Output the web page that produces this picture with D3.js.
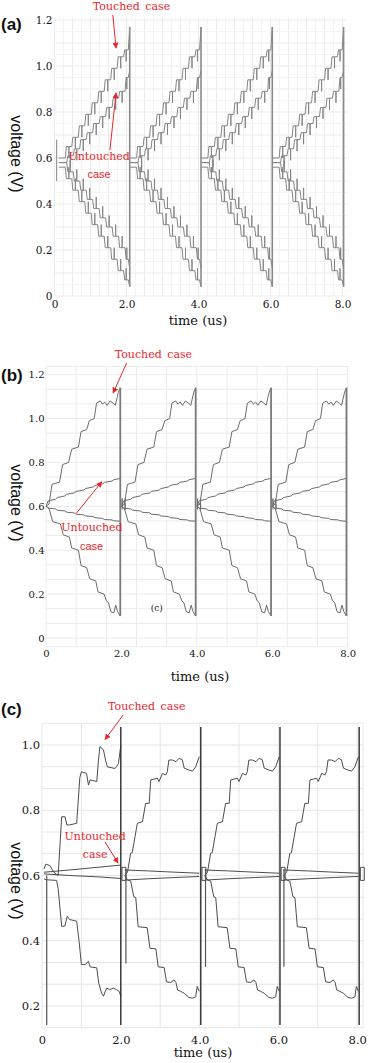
<!DOCTYPE html>
<html>
<head>
<meta charset="utf-8">
<script src="https://cdn.jsdelivr.net/npm/d3@7"></script>
<style>
  html, body { margin: 0; padding: 0; background: #fff; }
  svg { display: block; }
</style>
</head>
<body>
<div id="chart"></div>
<script>
// ---------- values ----------
// time axis (us), shared by the three panels
const timeTicks = [0, 2, 4, 6, 8];
const timeTickLabels = ["0", "2.0", "4.0", "6.0", "8.0"];

// ---- panel (a) ----
const voltTicksA = [0, 0.2, 0.4, 0.6, 0.8, 1.0, 1.2];
const voltTickLabelsA = ["0", "0.2", "0.4", "0.6", "0.8", "1.0", "1.2"];
const cycleStartsA = [0.12, 2.1, 4.08, 6.06];
const dropsA = [2.09, 4.07, 6.05, 8.03];
const dropRangeA = [0.04, 1.17];
const stepTimesTouchedA = [0, 0.18, 0.36, 0.54, 0.72, 0.9, 1.08, 1.26, 1.44, 1.62, 1.8];
const stepTimesUntouchedA = [0, 0.22, 0.4, 0.58, 0.76, 0.94, 1.12, 1.3, 1.48, 1.66, 1.84];
const touchedUpA = [0.60, 0.65, 0.69, 0.74, 0.79, 0.84, 0.89, 0.94, 0.99, 1.04, 1.07];
const untouchedUpA = [0.58, 0.61, 0.64, 0.68, 0.71, 0.75, 0.78, 0.82, 0.86, 0.89, 0.95];
const touchedDownA = [0.56, 0.51, 0.46, 0.41, 0.36, 0.31, 0.26, 0.21, 0.16, 0.11, 0.07];
const untouchedDownA = [0.58, 0.54, 0.50, 0.46, 0.42, 0.38, 0.34, 0.30, 0.26, 0.21, 0.16];
const endValuesA = { touchedUp: 1.17, untouchedUp: 0.98, touchedDown: 0.04, untouchedDown: 0.12 };
const startTickA = [[0.06, 0.5], [0.06, 0.68]];

// ---- panel (b) ----
const voltTicksB = [0, 0.2, 0.4, 0.6, 0.8, 1.0, 1.2];
const voltTickLabelsB = ["0", "0.2", "0.4", "0.6", "0.8", "1.0", "1.2"];
const cycleStartsB = [0, 2.0, 4.0, 6.0];
const dropsB = [1.97, 3.97, 5.97, 7.97];
const dropRangeB = [0.1, 1.14];
const touchedUpB = [[0, 0.6], [0.08, 0.61], [0.16, 0.7], [0.36, 0.71], [0.44, 0.79], [0.6, 0.8], [0.68, 0.86],
  [0.86, 0.87], [0.93, 0.94], [1.08, 0.95], [1.15, 0.99], [1.28, 1.0], [1.34, 1.07], [1.44, 1.08], [1.5, 1.065],
  [1.56, 1.075], [1.62, 1.06], [1.7, 1.08], [1.78, 1.07], [1.84, 1.06], [1.92, 1.12], [1.97, 1.14]];
const touchedDownB = [[0, 0.6], [0.08, 0.59], [0.18, 0.53], [0.38, 0.52], [0.46, 0.47], [0.62, 0.46], [0.68, 0.41],
  [0.86, 0.4], [0.93, 0.33], [1.08, 0.32], [1.16, 0.27], [1.32, 0.26], [1.38, 0.21], [1.54, 0.2], [1.6, 0.17],
  [1.66, 0.16], [1.72, 0.12], [1.8, 0.115], [1.85, 0.15], [1.9, 0.12], [1.97, 0.1]];
const untouchedUpB = [[0, 0.6], [0.06, 0.625], [0.25, 0.632], [0.3, 0.64], [0.5, 0.647], [0.55, 0.655], [0.75, 0.661],
  [0.8, 0.668], [1.0, 0.674], [1.05, 0.681], [1.25, 0.688], [1.3, 0.695], [1.5, 0.702], [1.55, 0.709],
  [1.75, 0.715], [1.8, 0.721], [1.97, 0.727]];
const untouchedDownB = [[0, 0.6], [0.06, 0.592], [0.25, 0.588], [0.3, 0.582], [0.5, 0.579], [0.55, 0.573], [0.75, 0.57],
  [0.8, 0.564], [1.0, 0.561], [1.05, 0.556], [1.25, 0.553], [1.3, 0.548], [1.5, 0.545], [1.55, 0.54],
  [1.75, 0.538], [1.8, 0.534], [1.97, 0.532]];
const startMarkB = [[0.02, 0.585], [0.02, 0.635], [0.02, 0.61], [0.1, 0.61], [0.1, 0.585], [0.1, 0.635]];

// ---- panel (c) ----
const voltTicksC = [0.2, 0.4, 0.6, 0.8, 1.0];
const voltTickLabelsC = ["0.2", "0.4", "0.6", "0.8", "1.0"];
const cycleStartsC = [2.0, 4.03, 6.04];   // cycles 2-4 share one shape, cycle 1 differs
const dropsC = [2.0, 4.03, 6.04, 8.05];
const dropRangeC = [0.142, 1.055];
const shortDropsC = [[0.12, 0.6, 0.142], [2.13, 0.62, 0.33], [4.15, 0.62, 0.32], [6.14, 0.62, 0.32]];
const touchedUpC1 = [[0.05, 0.62], [0.1, 0.635], [0.2, 0.63], [0.3, 0.61], [0.41, 0.6], [0.5, 0.78], [0.585, 0.78],
  [0.63, 0.755], [0.7, 0.755], [0.88, 0.76], [0.96, 0.9], [1.0, 0.918], [1.13, 0.913], [1.18, 0.877], [1.22, 0.893],
  [1.39, 0.888], [1.43, 0.95], [1.47, 0.995], [1.56, 0.985], [1.62, 0.95], [1.66, 0.933], [1.85, 0.928],
  [1.9, 0.935], [1.94, 0.943], [2.0, 0.998]];
const touchedDownC1 = [[0.05, 0.59], [0.1, 0.587], [0.37, 0.585], [0.41, 0.56], [0.5, 0.444], [0.58, 0.445],
  [0.64, 0.475], [0.7, 0.465], [0.88, 0.46], [0.94, 0.4], [1.0, 0.327], [1.09, 0.327], [1.18, 0.337], [1.22, 0.32],
  [1.39, 0.317], [1.44, 0.27], [1.51, 0.24], [1.56, 0.23], [1.64, 0.255], [1.72, 0.25], [1.81, 0.255],
  [1.89, 0.25], [1.96, 0.245], [2.0, 0.23]];
const untouchedUpC1 = [[0.05, 0.61], [0.7, 0.617], [1.4, 0.625], [2.0, 0.632]];
const untouchedDownC1 = [[0.05, 0.605], [0.7, 0.6], [1.4, 0.596], [2.0, 0.591]];
const touchedUpC = [[0.1, 0.6], [0.17, 0.61], [0.25, 0.668], [0.29, 0.67], [0.42, 0.76], [0.55, 0.765], [0.63, 0.821],
  [0.72, 0.821], [0.76, 0.893], [0.93, 0.898], [0.97, 0.888], [1.06, 0.913], [1.14, 0.908], [1.18, 0.918],
  [1.22, 0.954], [1.31, 0.954], [1.4, 0.949], [1.48, 0.959], [1.56, 0.955], [1.61, 0.929], [1.73, 0.923],
  [1.82, 0.92], [1.9, 0.933], [1.99, 0.964]];
const touchedDownC = [[0.1, 0.6], [0.17, 0.586], [0.25, 0.583], [0.33, 0.535], [0.38, 0.532], [0.44, 0.443],
  [0.67, 0.44], [0.74, 0.377], [0.89, 0.375], [0.95, 0.32], [1.1, 0.318], [1.16, 0.274], [1.27, 0.272],
  [1.35, 0.28], [1.4, 0.272], [1.44, 0.249], [1.52, 0.245], [1.61, 0.239], [1.73, 0.226], [1.82, 0.224],
  [1.9, 0.228], [1.94, 0.26], [1.99, 0.245]];
const untouchedUpC = [[0.1, 0.617], [0.7, 0.614], [1.4, 0.61], [1.99, 0.607]];
const untouchedDownC = [[0.1, 0.586], [0.7, 0.59], [1.4, 0.594], [1.99, 0.597]];
const startMarkC = [[0.03, 0.585], [0.03, 0.625], [0.13, 0.625], [0.13, 0.585], [0.03, 0.585]];

// annotation anchors, in data units (t, V)
const notesA = { touched: [2.14, 1.243], touchedArrow: [[1.62, 1.222], [1.71, 1.078]],
  untouched: [1.24, 0.591], untouchedCase: [1.24, 0.513], untouchedArrow: [[1.54, 0.635], [1.71, 0.883]] };
const notesB = { touched: [2.85, 1.276], touchedArrow: [[2.14, 1.253], [1.78, 1.116]],
  untouched: [1.22, 0.487], untouchedCase: [1.21, 0.4], untouchedArrow: [[0.81, 0.569], [1.48, 0.712]],
  stray: [2.94, 0.123] };
const notesC = { touched: [2.66, 1.107], touchedArrow: [[2.06, 1.092], [1.6, 1.017]],
  untouched: [1.35, 0.709], untouchedCase: [1.35, 0.654], untouchedArrow: [[1.6, 0.703], [1.93, 0.638]] };

// ---------- drawing ----------
const W = 368, H = 1063;
const RED = "#e8262d";
const serif = "'DejaVu Serif', serif";
const sans = "'Liberation Sans', Arial, sans-serif";

const svg = d3.select("#chart").append("svg")
  .attr("width", W).attr("height", H)
  .style("background", "#fff");

svg.append("defs").append("marker")
  .attr("id", "arrow")
  .attr("viewBox", "0 0 10 10")
  .attr("refX", 9).attr("refY", 5)
  .attr("markerWidth", 6).attr("markerHeight", 6)
  .attr("markerUnits", "userSpaceOnUse")
  .attr("orient", "auto")
  .append("path").attr("d", "M0,0 L10,5 L0,10 z").attr("fill", RED);

// scales for each panel
const xA = d3.scaleLinear().domain([0, 8]).range([54.5, 342.5]);
const yA = d3.scaleLinear().domain([0, 1.2]).range([296, 20]);
const xB = d3.scaleLinear().domain([0, 8]).range([46, 347.6]);
const yB = d3.scaleLinear().domain([0, 1.2]).range([638, 374.6]);
const xC = d3.scaleLinear().domain([0, 8]).range([42, 357.2]);
const yC = d3.scaleLinear().domain([0.2, 1.0]).range([1006, 745]);

function drawGrid(x, y, xLines, yLines, tRange, vRange, color) {
  const g = svg.append("g");
  g.selectAll(".gx").data(xLines).enter().append("line")
    .attr("x1", d => x(d[0])).attr("x2", d => x(d[0]))
    .attr("y1", y(vRange[0])).attr("y2", y(vRange[1]))
    .attr("stroke", d => d[1] ? color[0] : color[1]).attr("stroke-width", 1);
  g.selectAll(".gy").data(yLines).enter().append("line")
    .attr("y1", d => y(d[0])).attr("y2", d => y(d[0]))
    .attr("x1", x(tRange[0])).attr("x2", x(tRange[1]))
    .attr("stroke", d => d[1] ? color[0] : color[1]).attr("stroke-width", 1);
}

function drawAxes(x, y, ticksV, labelsV, xAxisY, yAxisX, padX, padY, fs) {
  const gx = svg.append("g").attr("transform", `translate(0,${xAxisY})`)
    .call(d3.axisBottom(x).tickValues(timeTicks).tickFormat((d, i) => timeTickLabels[i])
      .tickSize(0).tickPadding(padX));
  const gy = svg.append("g").attr("transform", `translate(${yAxisX},0)`)
    .call(d3.axisLeft(y).tickValues(ticksV).tickFormat((d, i) => labelsV[i])
      .tickSize(0).tickPadding(padY));
  [gx, gy].forEach(g => {
    g.select(".domain").remove();
    g.selectAll("text").attr("font-family", serif).attr("font-size", fs).attr("fill", "#151515");
  });
}

function titles(letter, letterY, vCenter, timeX, timeY) {
  svg.append("text").attr("x", 1).attr("y", letterY).text(letter)
    .attr("font-family", sans).attr("font-weight", "bold").attr("font-size", 17).attr("fill", "#111");
  svg.append("text").attr("transform", `translate(11,${vCenter}) rotate(90)`)
    .attr("text-anchor", "middle").text("voltage (V)")
    .attr("font-family", sans).attr("font-size", 16).attr("fill", "#111");
  svg.append("text").attr("x", timeX).attr("y", timeY).attr("text-anchor", "middle").text("time (us)")
    .attr("font-family", serif).attr("font-size", 13).attr("fill", "#111");
}

function notes(x, y, n, caseFont, caseSize) {
  const g = svg.append("g").attr("fill", RED);
  g.append("text").attr("x", x(n.touched[0])).attr("y", y(n.touched[1]))
    .attr("text-anchor", "middle").text("Touched case")
    .attr("font-family", serif).attr("font-size", 11).attr("word-spacing", 2);
  g.append("text").attr("x", x(n.untouched[0])).attr("y", y(n.untouched[1]))
    .attr("text-anchor", "middle").text("Untouched")
    .attr("font-family", serif).attr("font-size", 11);
  g.append("text").attr("x", x(n.untouchedCase[0])).attr("y", y(n.untouchedCase[1]))
    .attr("text-anchor", "middle").text("case")
    .attr("font-family", caseFont).attr("font-size", caseSize);
  [n.touchedArrow, n.untouchedArrow].forEach(a => {
    svg.append("line")
      .attr("x1", x(a[0][0])).attr("y1", y(a[0][1]))
      .attr("x2", x(a[1][0])).attr("y2", y(a[1][1]))
      .attr("stroke", RED).attr("stroke-width", 1)
      .attr("marker-end", "url(#arrow)");
  });
}

function trace(x, y, pts, offset, color, width) {
  const line = d3.line().x(d => x(d[0] + offset)).y(d => y(d[1]));
  svg.append("path").datum(pts).attr("d", line)
    .attr("fill", "none").attr("stroke", color).attr("stroke-width", width)
    .attr("stroke-linejoin", "miter");
}

function drops(x, y, times, range, color, width) {
  svg.append("g").selectAll("line").data(times).enter().append("line")
    .attr("x1", d => x(d)).attr("x2", d => x(d))
    .attr("y1", y(range[0])).attr("y2", y(range[1]))
    .attr("stroke", color).attr("stroke-width", width);
}

// staircase with a short glitch tick inside every plateau (panel a)
function jagged(stepTimes, levels, endValue, dip) {
  const endTime = 1.97;
  const pts = [[stepTimes[0], levels[0]]];
  levels.forEach((lv, i) => {
    const t0 = stepTimes[i];
    const t1 = i + 1 < stepTimes.length ? stepTimes[i + 1] : endTime - 0.04;
    if (i > 0) {
      const mid = t0 + (t1 - t0) * 0.55;
      pts.push([t0 + 0.03, lv], [mid, lv], [mid, lv + dip], [mid, lv]);
    }
    pts.push([t1, lv]);
  });
  pts.push([endTime, endValue]);
  return pts;
}

// ----- panel (a) -----
drawGrid(xA, yA,
  d3.range(0, 8.13, 0.25).map(t => [t, Math.round(t * 4) % 2 === 0]),
  d3.range(0, 1.22, 0.05).map(v => [v, Math.round(v * 20) % 2 === 0]),
  [0, 8.13], [0, 1.21], ["#ebebeb", "#f4f4f4"]);
drawAxes(xA, yA, voltTicksA, voltTickLabelsA, 296, 55, 4.5, 2.5, 10.5);
titles("(a)", 30, 154, 198, 325);
const colA = "#858585";
cycleStartsA.forEach(s => {
  trace(xA, yA, jagged(stepTimesTouchedA, touchedUpA, endValuesA.touchedUp, -0.05), s, colA, 1);
  trace(xA, yA, jagged(stepTimesUntouchedA, untouchedUpA, endValuesA.untouchedUp, -0.05), s, colA, 1);
  trace(xA, yA, jagged(stepTimesTouchedA, touchedDownA, endValuesA.touchedDown, 0.05), s, colA, 1);
  trace(xA, yA, jagged(stepTimesUntouchedA, untouchedDownA, endValuesA.untouchedDown, 0.05), s, colA, 1);
});
trace(xA, yA, startTickA, 0, colA, 1);
drops(xA, yA, dropsA, dropRangeA, "#8a8a8a", 1.6);
notes(xA, yA, notesA, sans, 11);

// ----- panel (b) -----
drawGrid(xB, yB,
  d3.range(0, 8.01, 0.8).map(t => [t, true]),
  d3.range(0, 1.21, 0.2 / 3).map(v => [v, true]).concat([[-0.04, true], [1.237, true]]),
  [0, 8], [-0.04, 1.237], ["#ebebeb", "#ebebeb"]);
drawAxes(xB, yB, voltTicksB, voltTickLabelsB, yB(-0.04), 46, 3, 1.5, 10);
titles("(b)", 381, 503, 200, 681);
const colB = "#6c6c6c";
cycleStartsB.forEach((s, i) => {
  trace(xB, yB, touchedUpB, s, colB, 1);
  trace(xB, yB, touchedDownB, s, colB, 1);
  trace(xB, yB, untouchedUpB, s, colB, 1);
  trace(xB, yB, untouchedDownB, s, colB, 1);
  if (i > 0) trace(xB, yB, startMarkB, s, colB, 1);
});
drops(xB, yB, dropsB, dropRangeB, "#7a7a7a", 1.8);
notes(xB, yB, notesB, sans, 11);
svg.append("text").attr("x", xB(notesB.stray[0])).attr("y", yB(notesB.stray[1]))
  .attr("text-anchor", "middle").text("(c)")
  .attr("font-family", serif).attr("font-size", 9).attr("fill", "#222");

// ----- panel (c) -----
drawGrid(xC, yC,
  d3.range(0, 8.01, 1).map(t => [t, true]).concat([[8.15, true]]),
  d3.range(2, 16.5, 1).map(k => [k * 0.2 / 3, true]),
  [0, 8.15], [0.1333, 1.0667], ["#e6e6e6", "#e6e6e6"]);
drawAxes(xC, yC, voltTicksC, voltTickLabelsC, yC(0.1333), 42, 8, 2, 11.5);
titles("(c)", 715, 881, 203, 1057);
const colC = "#4d4d4d";
trace(xC, yC, touchedUpC1, 0, colC, 1);
trace(xC, yC, touchedDownC1, 0, colC, 1);
trace(xC, yC, untouchedUpC1, 0, colC, 1);
trace(xC, yC, untouchedDownC1, 0, colC, 1);
cycleStartsC.forEach(s => {
  trace(xC, yC, touchedUpC, s, colC, 1);
  trace(xC, yC, touchedDownC, s, colC, 1);
  trace(xC, yC, untouchedUpC, s, colC, 1);
  trace(xC, yC, untouchedDownC, s, colC, 1);
  trace(xC, yC, startMarkC, s, colC, 1);
});
trace(xC, yC, startMarkC, 8.05, colC, 1);
svg.append("g").selectAll("line").data(shortDropsC).enter().append("line")
  .attr("x1", d => xC(d[0])).attr("x2", d => xC(d[0]))
  .attr("y1", d => yC(d[1])).attr("y2", d => yC(d[2]))
  .attr("stroke", "#555").attr("stroke-width", 1.2);
drops(xC, yC, dropsC, dropRangeC, "#2e2e2e", 1.4);
notes(xC, yC, notesC, serif, 11);
</script>
</body>
</html>
